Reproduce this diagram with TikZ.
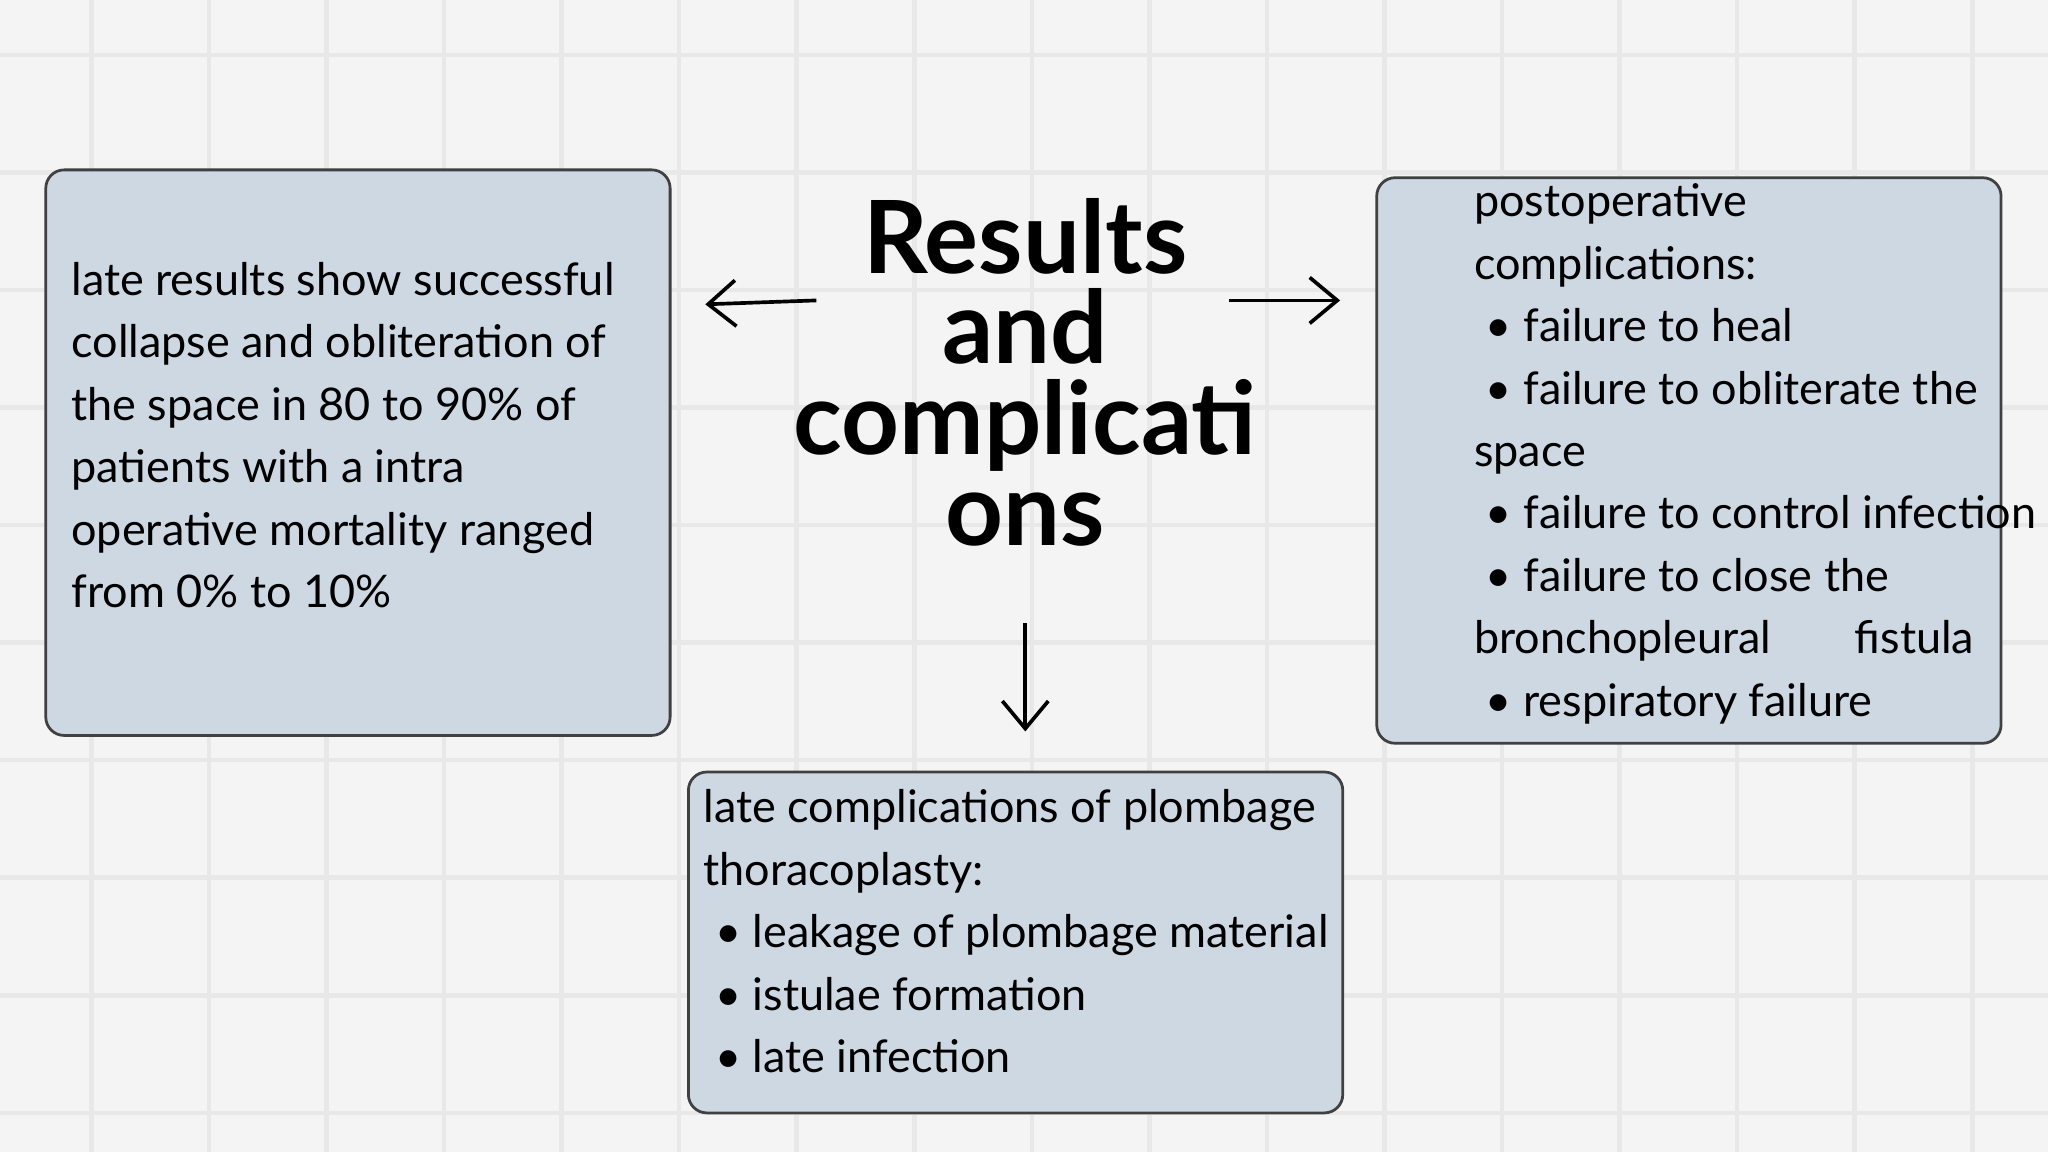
\documentclass[tikz,border=0pt]{standalone}
\usepackage{fontspec}
\setmainfont{Lato}
\usetikzlibrary{arrows.meta}
\definecolor{boxfill}{HTML}{CDD8E3}
\definecolor{paper}{HTML}{F4F4F4}
\definecolor{gridline}{HTML}{E8E8E8}
\tikzset{
  box/.style={draw=black!75, fill=boxfill, rounded corners=4pt, line width=0.6pt},
  txt/.style={anchor=north west, align=left, font=\fontsize{9.8}{13.6}\selectfont, inner sep=0pt},
  arr/.style={draw, line width=0.8pt, -{Straight Barb[length=6pt,width=10pt]}}
}
\begin{document}
\begin{tikzpicture}
\useasboundingbox (0,0) rectangle (15.68,8.82);
\fill[paper] (0,0) rectangle (15.68,8.82);
\foreach \x in {0.7,1.6,...,15.5} \draw[gridline,line width=1pt] (\x,0) -- (\x,8.82);
\foreach \y in {0.3,1.2,...,8.7} \draw[gridline,line width=1pt] (0,\y) -- (15.68,\y);

\node[box, minimum width=4.78cm, minimum height=4.33cm, anchor=north west] (left) at (0.34,7.53) {};
\node[box, minimum width=4.78cm, minimum height=4.33cm, anchor=north west] (right) at (10.53,7.47) {};
\node[box, minimum width=5.01cm, minimum height=2.61cm, anchor=north west] (bottom) at (5.26,2.92) {};

\node[align=center, font=\bfseries\fontsize{22}{19.8}\selectfont] (title) at (7.85,5.97) {Results\\and\\complicati\\ons};

\node[txt] (lefttext) at (0.54,6.82) {late results show successful\\collapse and obliteration of\\the space in 80 to 90\% of\\patients with a intra\\operative mortality ranged\\from 0\% to 10\%};
\node[txt] (righttext) at (11.28,7.42) {postoperative\\complications:\\ \ \textbullet\ failure to heal\\ \ \textbullet\ failure to obliterate the\\space\\ \ \textbullet\ failure to control infection\\ \ \textbullet\ failure to close the\\bronchopleural\hspace{1.6em} fistula\\ \ \textbullet\ respiratory failure};
\node[txt] (bottomtext) at (5.38,2.78) {late complications of plombage\\thoracoplasty:\\ \ \textbullet\ leakage of plombage material\\ \ \textbullet\ istulae formation\\ \ \textbullet\ late infection};

\coordinate (la) at (6.25,6.52);
\coordinate (lb) at (5.40,6.49);
\coordinate (ra) at (9.41,6.52);
\coordinate (rb) at (10.26,6.52);
\coordinate (da) at (7.85,4.05);
\coordinate (db) at (7.85,3.22);
\path[arr] (la) -- (lb);
\path[arr] (ra) -- (rb);
\path[arr] (da) -- (db);
\end{tikzpicture}
\end{document}
